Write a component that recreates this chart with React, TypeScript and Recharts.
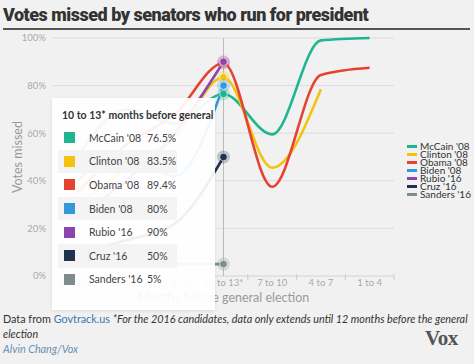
import * as React from 'react';
import { CartesianGrid, Line, LineChart, Tooltip, XAxis, YAxis } from 'recharts';

const categories = ['19 to 22', '16 to 19', '13 to 16', '10 to 13*', '7 to 10', '4 to 7', '1 to 4'];
const mccain = [50, 70, 64, 76.5, 59.5, 99, 100];
const clinton = [30, 45, 58, 83.5, 45.5, 78.5, null];
const obama = [35, 55, 68, 89.4, 37.5, 84.5, 87.5];
const biden = [40, 52, 42, 80, null, null, null];
const rubio = [25, 40, 60, 90, null, null, null];
const cruz = [10, 15, 22, 50, null, null, null];
const sanders = [4, 5, 5, 5, null, null, null];
const yTicks = [0, 20, 40, 60, 80, 100];

const series = [
  { key: 'mccain', name: "McCain '08", color: '#1fb58f', values: mccain },
  { key: 'clinton', name: "Clinton '08", color: '#f2c40f', values: clinton },
  { key: 'obama', name: "Obama '08", color: '#e5432f', values: obama },
  { key: 'biden', name: "Biden '08", color: '#3498db', values: biden },
  { key: 'rubio', name: "Rubio '16", color: '#8e44ad', values: rubio },
  { key: 'cruz', name: "Cruz '16", color: '#22324d', values: cruz },
  { key: 'sanders', name: "Sanders '16", color: '#7f8c8d', values: sanders },
];

const data = categories.map((month, i) => {
  const row: any = { month };
  series.forEach(s => { row[s.key] = s.values[i]; });
  return row;
});

const font = "Lato, sans-serif";
const plotLeft = 53;
const plotRight = 394;
const band = (plotRight - plotLeft) / categories.length;

function XTick(props: any) {
  const { x, y, payload } = props;
  return (
    <g>
      <line x1={x + band / 2} x2={x + band / 2} y1={y - 4} y2={y + 2} stroke="#ccc" />
      <text x={x} y={y + 8} textAnchor="middle" fontSize={9.5} fill="#aaa" fontFamily={font}>
        {payload.value}
      </text>
    </g>
  );
}

function TipBox({ active, payload, label }: any) {
  if (!active || !payload || !payload.length) return null;
  return (
    <div style={{
      width: 163, height: 212, boxSizing: 'border-box', padding: '9px 6px 0 6px',
      background: 'rgba(255,255,255,0.93)', boxShadow: '0 1px 3px rgba(0,0,0,0.1)',
      fontFamily: font, color: '#444',
    }}>
      <div style={{ fontWeight: 700, fontSize: 10.5, color: '#333', marginLeft: 4, height: 19, lineHeight: '16px', whiteSpace: 'nowrap' }}>
        {label} months before general
      </div>
      {payload.map((p: any, i: number) => (
        <div key={p.dataKey} style={{
          height: 23.6, display: 'flex', alignItems: 'center', fontSize: 10.5,
          background: i % 2 === 1 ? '#f4f4f4' : 'transparent', width: 119, whiteSpace: 'nowrap',
        }}>
          <span style={{ display: 'inline-block', width: 11, height: 11, background: p.color, marginLeft: 6, flex: 'none' }} />
          <span style={{ marginLeft: 14, width: 58, flex: 'none' }}>{p.name}</span>
          <span>{p.value}%</span>
        </div>
      ))}
    </div>
  );
}

function haloDot(color: string) {
  return (p: any) => (
    <g key={`dot-${color}`}>
      <circle cx={p.cx} cy={p.cy} r={6.5} fill={color} fillOpacity={0.25} />
      <circle cx={p.cx} cy={p.cy} r={3.8} fill={color} stroke="#fff" strokeWidth={0.6} />
    </g>
  );
}

export default function App() {
  return (
    <div style={{ position: 'absolute', left: 0, top: 0, width: 474, height: 364, background: '#f1f1f1', overflow: 'hidden' }}>
      <div style={{
        position: 'absolute', left: 3, top: 4, fontFamily: 'Roboto, sans-serif', fontWeight: 900,
        fontSize: 18, color: '#333', letterSpacing: -0.5, whiteSpace: 'nowrap',
      }}>
        Votes missed by senators who run for president
      </div>
      <div style={{ position: 'absolute', left: 3, top: 28, width: 467, height: 2, background: '#555' }} />

      <LineChart width={474} height={364} data={data} margin={{ top: 38, right: 80, bottom: 62, left: 13 }}>
        <CartesianGrid vertical={false} stroke="#dcdcdc" />
        <XAxis
          dataKey="month"
          scale="band"
          height={26}
          axisLine={{ stroke: '#dcdcdc' }}
          tickLine={false}
          tickSize={0}
          tick={<XTick />}
          interval={0}
          label={{ value: 'Months before general election', position: 'insideBottom', offset: 0, fontSize: 12.5, fill: '#9a9a9a', fontFamily: font }}
        />
        <YAxis
          width={40}
          domain={[0, 100]}
          ticks={yTicks}
          tickFormatter={(v) => `${v}%`}
          axisLine={false}
          tickLine={false}
          tickSize={0}
          tickMargin={7}
          tick={{ fontSize: 9.5, fill: '#aaa', fontFamily: font }}
          label={{ value: 'Votes missed', angle: -90, position: 'insideLeft', offset: 5, style: { textAnchor: 'middle' }, fontSize: 12.5, fill: '#9a9a9a', fontFamily: font }}
        />
        {series.map(s => (
          <Line
            key={s.key}
            type="monotone"
            dataKey={s.key}
            name={s.name}
            stroke={s.color}
            strokeWidth={2.6}
            dot={false}
            activeDot={haloDot(s.color)}
            isAnimationActive={false}
          />
        ))}
        <Tooltip
          content={<TipBox />}
          position={{ x: 52, y: 98 }}
          defaultIndex={3}
          active
          cursor={{ stroke: '#bbb', strokeWidth: 1 }}
          isAnimationActive={false}
          wrapperStyle={{ zIndex: 5 }}
        />
      </LineChart>

      <div style={{ position: 'absolute', left: 407, top: 142, fontFamily: font, fontSize: 10, color: '#333' }}>
        {series.map(s => (
          <div key={s.key} style={{ height: 8, display: 'flex', alignItems: 'center', whiteSpace: 'nowrap' }}>
            <span style={{ display: 'inline-block', width: 10, height: 3, background: s.color, marginRight: 3 }} />
            {s.name}
          </div>
        ))}
      </div>

      <div style={{ position: 'absolute', left: 3, top: 311, width: 466, fontFamily: font, fontSize: 10.8, lineHeight: '15px', color: '#333' }}>
        Data from <span style={{ color: '#3d78ad' }}>Govtrack.us</span>{' '}
        <i>*For the 2016 candidates, data only extends until 12 months before the general election</i>
      </div>
      <div style={{ position: 'absolute', left: 3, top: 341, fontFamily: font, fontSize: 10.8, lineHeight: '15px', color: '#6b8fb3', fontStyle: 'italic' }}>
        Alvin Chang/Vox
      </div>
      <div style={{ position: 'absolute', left: 425, top: 326, fontFamily: "'Liberation Serif', serif", fontWeight: 700, fontSize: 21, color: '#555', letterSpacing: -0.5 }}>
        Vox
      </div>
    </div>
  );
}
